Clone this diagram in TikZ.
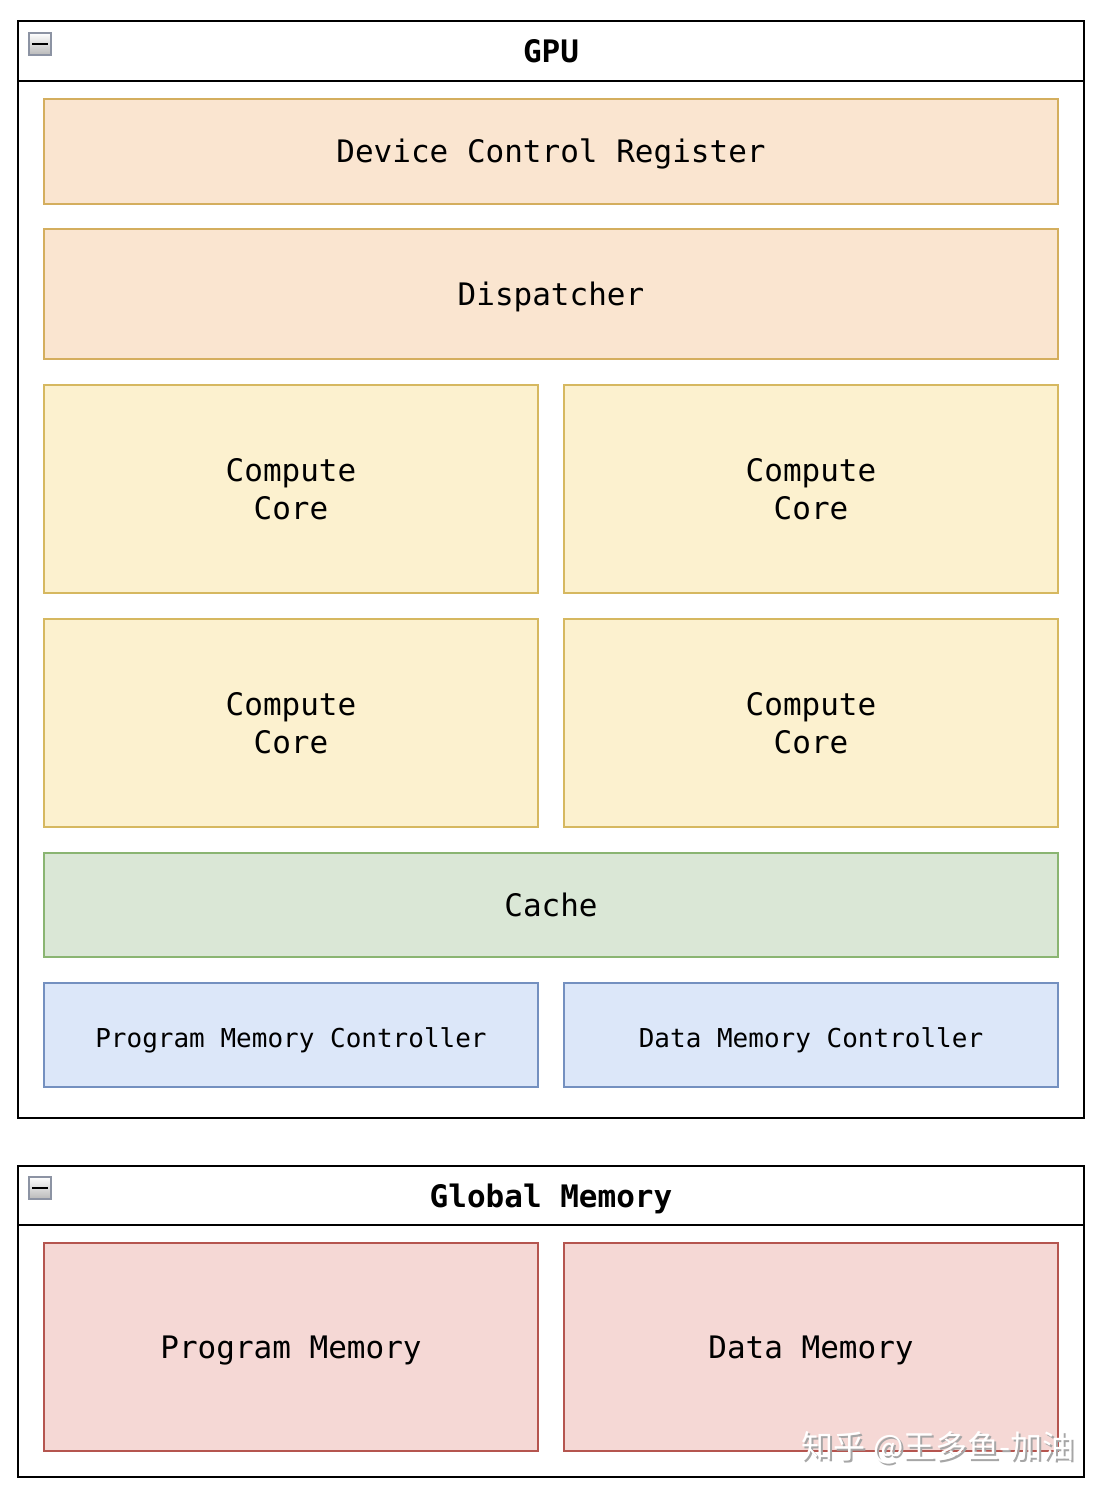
\documentclass[tikz,border=0pt]{standalone}
\usepackage{fontspec}
\setmonofont{DejaVu Sans Mono}
\newfontfamily\cjkfont{Noto Sans CJK SC}
\usetikzlibrary{positioning}

\definecolor{dcrfill}{HTML}{FAE5D0}
\definecolor{dcrline}{HTML}{D4AE5E}
\definecolor{corefill}{HTML}{FCF1CF}
\definecolor{coreline}{HTML}{D6B860}
\definecolor{cachefill}{HTML}{DAE7D6}
\definecolor{cacheline}{HTML}{8AB572}
\definecolor{ctrlfill}{HTML}{DCE7F9}
\definecolor{ctrlline}{HTML}{7490C0}
\definecolor{memfill}{HTML}{F5D8D5}
\definecolor{memline}{HTML}{B5554F}
\definecolor{iconline}{HTML}{8C93A3}

\begin{document}
\begin{tikzpicture}[x=1pt, y=-1pt, font=\ttfamily\fontsize{31}{38}\selectfont,
                container/.style={draw=black, line width=2.2pt},
                unit/.style={line width=2.2pt, align=center, inner sep=0pt},
                one line/.style={text height=28pt, text depth=6pt},
                wide unit/.style={unit, one line, minimum width=1014pt},
                half unit/.style={unit, minimum width=494pt},
                ctrl unit/.style={half unit, fill=ctrlfill, draw=ctrlline, minimum height=104pt,
                    text height=28pt, text depth=4pt, font=\ttfamily\fontsize{26}{32}\selectfont},
                title/.style={one line, font=\ttfamily\bfseries\fontsize{31}{38}\selectfont},
                collapse/.style={draw=iconline, line width=1.5pt, minimum size=22pt,
                    inner sep=0pt, top color=white, bottom color=gray!55}]

                \useasboundingbox (0,0) rectangle (1106,1496);

                % GPU container with its header
                \draw[container] (18,21) rectangle (1084,1118);
                \draw[container] (18,81) -- (1084,81);
                \node[title] (gputitle) at (551,52) {GPU};
                \node[collapse] (gpuicon) at (40,44) {};
                \draw[line width=2.4pt] ([xshift=4pt]gpuicon.west) -- ([xshift=-4pt]gpuicon.east);

                % Control path
                \node[wide unit, fill=dcrfill, draw=dcrline, minimum height=105pt]
                    (dcr) at (551,151.5) {Device Control Register};
                \node[wide unit, fill=dcrfill, draw=dcrline, minimum height=130pt]
                    (disp) at (551,294) {Dispatcher};

                % Compute cores, two by two
                \foreach \row/\y in {1/489, 2/723}
                    \foreach \col/\x in {1/291, 2/811}
                        \node[half unit, fill=corefill, draw=coreline, minimum height=208pt]
                            (core\row\col) at (\x,\y) {Compute\\Core};

                % Cache and memory controllers
                \node[wide unit, fill=cachefill, draw=cacheline, minimum height=104pt]
                    (cache) at (551,905) {Cache};
                \node[ctrl unit] (pmc) at (291,1035) {Program Memory Controller};
                \node[ctrl unit] (dmc) at (811,1035) {Data Memory Controller};

                % Global memory container
                \draw[container] (18,1166) rectangle (1084,1477);
                \draw[container] (18,1225) -- (1084,1225);
                \node[title] (memtitle) at (551,1196) {Global Memory};
                \node[collapse] (memicon) at (40,1188) {};
                \draw[line width=2.4pt] ([xshift=4pt]memicon.west) -- ([xshift=-4pt]memicon.east);

                \node[half unit, one line, fill=memfill, draw=memline, minimum height=208pt]
                    (pmem) at (291,1347) {Program Memory};
                \node[half unit, one line, fill=memfill, draw=memline, minimum height=208pt]
                    (dmem) at (811,1347) {Data Memory};

                % Watermark
                \node[font=\cjkfont\fontsize{32}{36}\selectfont, text=gray!70, anchor=east]
                    (markshadow) at (1080,1450) {知乎 @王多鱼-加油};
                \node[font=\cjkfont\fontsize{32}{36}\selectfont, text=white, anchor=east]
                    (mark) at (1078,1448) {知乎 @王多鱼-加油};
            \end{tikzpicture}
\end{document}
